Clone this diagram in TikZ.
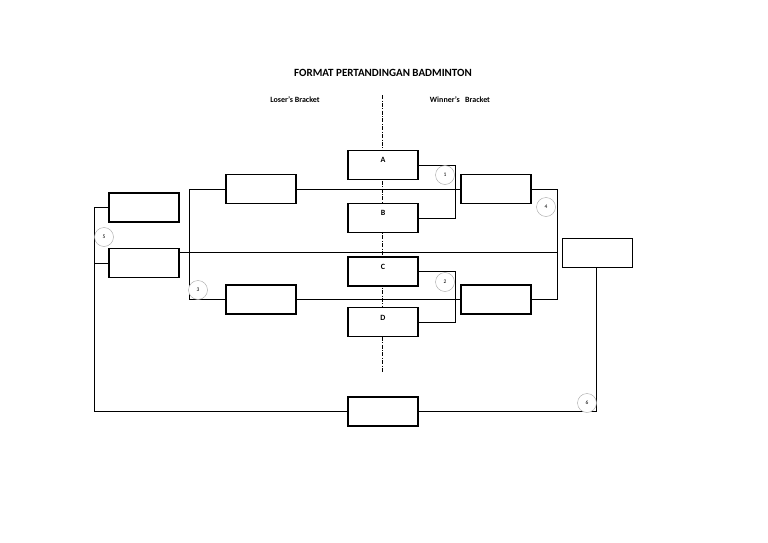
\documentclass[tikz,border=0pt]{standalone}
\usepackage{fontspec}
\setmainfont{Carlito}
\begin{document}
\begin{tikzpicture}[x=1pt,y=-1pt,
  box/.style={draw,fill=white,line width=1.4pt,minimum width=70pt,minimum height=29pt,inner sep=0pt},
  lbl/.style={font=\bfseries\fontsize{8}{9}\selectfont},
  num/.style={circle,draw=gray!70,fill=white,minimum size=19pt,inner sep=0pt,font=\fontsize{5.5}{6}\selectfont},
  ln/.style={line width=0.6pt}]
\useasboundingbox (0,0) rectangle (768,543);
\node[font=\bfseries\fontsize{11}{13}\selectfont] (t) at (383,73) {FORMAT PERTANDINGAN BADMINTON};
\node[lbl] (lb) at (295,100) {Loser's Bracket};
\node[lbl] (wb) at (460,100) {Winner's\ \ \ Bracket};
\coordinate (dt) at (382,95); \coordinate (db) at (382,372);
\draw[line width=0.5pt,dash pattern=on 4pt off 1.5pt on 0.8pt off 1.5pt] (dt) -- (db);
\draw[ln] (383,165) -- (455,165) -- (455,218) -- (383,218);
\draw[ln] (383,271.5) -- (455,271.5) -- (455,322) -- (383,322);
\node[box] (A) at (383,165) {}; \node[lbl] at (383,160) {A};
\node[box] (B) at (383,218) {}; \node[lbl] at (383,213) {B};
\node[box] (C) at (383,271.5) {}; \node[lbl] at (383,267) {C};
\node[box] (D) at (383,322) {}; \node[lbl] at (383,318) {D};
\node[box] (L1) at (261,189) {};
\node[box] (L2) at (261,299.5) {};
\node[box] (W1) at (496,189) {};
\node[box] (W2) at (496,299.5) {};
\node[box] (P1) at (144,207.5) {};
\node[box] (P2) at (144,263) {};
\node[box] (F) at (597.5,253) {};
\node[box] (G) at (383,411.5) {};
\draw[ln] (L1.east) -- (W1.west);
\draw[ln] (L2.east) -- (W2.west);
\draw[ln] (L1.west) -- (189,189) -- (189,299.5) -- (L2.west);
\draw[ln] (W1.east) -- (557,189) -- (557,299.5) -- (W2.east);
\draw[ln] (P2.east |- 0,252) -- (557,252);
\draw[ln] (P1.west) -- (94,207.5) -- (94,411.5) -- (G.west);
\draw[ln] (P2.west) -- (94,263);
\draw[ln] (G.east) -- (596,411.5) -- (F.south -| 596,0);
\node[num] (n1) at (445,175) {1};
\node[num] (n2) at (445,282) {2};
\node[num] (n3) at (198,290) {3};
\node[num] (n4) at (546,207) {4};
\node[num] (n5) at (104,237) {5};
\node[num] (n6) at (587,403) {6};
\end{tikzpicture}
\end{document}
